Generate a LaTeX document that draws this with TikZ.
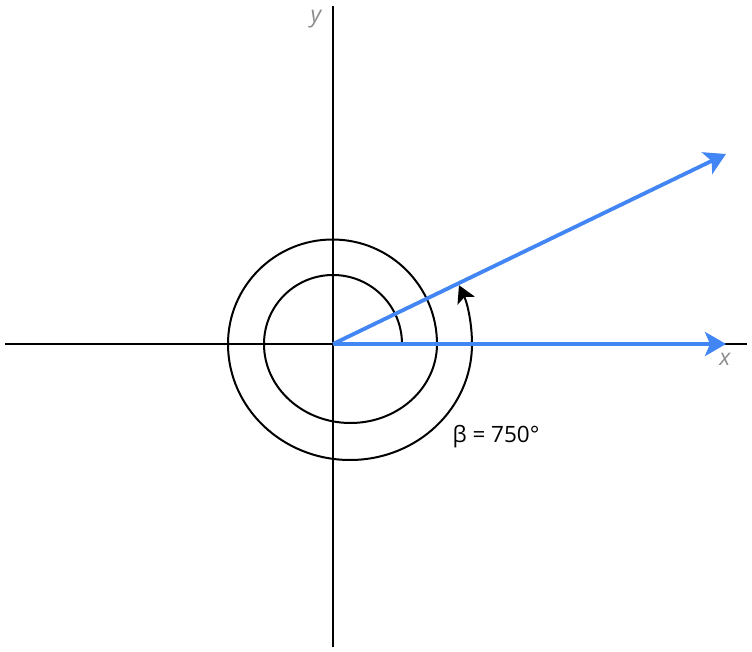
\documentclass[tikz,border=0pt]{standalone}
\usepackage{fontspec}
\setmainfont{Open Sans}
\usepackage{tikz}
\usetikzlibrary{arrows.meta,positioning}
\definecolor{vecblue}{HTML}{4285F4}
\definecolor{labelgray}{HTML}{8C8C8C}

\begin{document}
\begin{tikzpicture}[x=1pt,y=1pt]
		\tikzstyle{axis}=[black, line width=2pt]
		\tikzstyle{vec}=[vecblue, line width=3.8pt, -{Stealth[length=21pt,width=24pt,inset=5pt]}]
		\tikzstyle{turn}=[black, line width=2pt, -{Stealth[length=17pt,width=19pt,inset=4pt]}]
		\tikzstyle{axlabel}=[labelgray, inner sep=0pt, font=\fontsize{23}{26}\selectfont\itshape]
		
		\useasboundingbox (-333,-308) rectangle (419,344);
		
		\coordinate (O)    at (0,0);
		\coordinate (xl)   at (-328,0);
		\coordinate (xr)   at (414,0);
		\coordinate (yb)   at (0,-303);
		\coordinate (yt)   at (0,338);
		\coordinate (xtip) at (393,0);
		\coordinate (btip) at (393,190);
		\coordinate (s0)   at (69,0);
		
		% axes
		\draw[axis] (xl) -- (xr);
		\draw[axis] (yb) -- (yt);
		
		% the turns, 2 x 360 + 30
		\draw[turn] (s0)
			arc[start angle=0,   end angle=180, radius=69pt]
			arc[start angle=180, end angle=360, x radius=86.5pt, y radius=79pt]
			arc[start angle=0,   end angle=180, radius=104.5pt]
			arc[start angle=180, end angle=360, x radius=122pt, y radius=116pt]
			arc[start angle=0,   end angle=25,  radius=139pt];
		
		\draw[vec] (O) -- (xtip);
		\draw[vec] (O) -- (btip);
		
		\node[axlabel] (xlab) at (392,-15) {x};
		\node[axlabel] (ylab) at (-17,325) {y};
		\node[inner sep=0pt, font=\fontsize{22.5}{26}\selectfont] (beta) at (163,-93) {β = 750°};
\end{tikzpicture}
\end{document}
